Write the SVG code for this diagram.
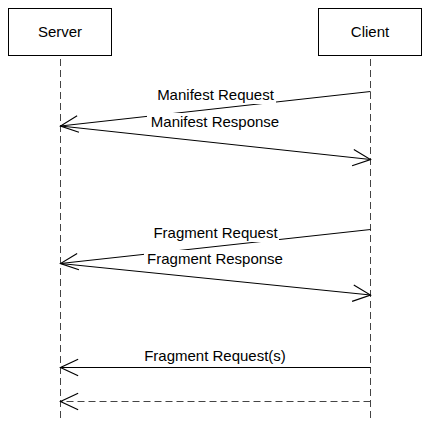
<svg xmlns="http://www.w3.org/2000/svg" width="433" height="432" viewBox="0 0 433 432">
  <style>
    .box { fill: #ffffff; stroke: #000000; stroke-width: 1; }
    .life { stroke: #444444; stroke-width: 1; stroke-dasharray: 7 4; fill: none; }
    .msg { stroke: #000000; stroke-width: 1; fill: none; marker-end: url(#open); }
    .ret { stroke: #444444; stroke-width: 1; stroke-dasharray: 7 4; fill: none; marker-end: url(#open); }
    .lbl { font-family: "Liberation Sans", Arial, sans-serif; font-size: 15px; fill: #000000; text-anchor: middle; }
    .lblbg { fill: #ffffff; stroke: none; }
  </style>
  <defs>
    <marker id="open" markerUnits="userSpaceOnUse" orient="auto" refX="0" refY="0" markerWidth="20" markerHeight="20" viewBox="-16 -8 17 16" overflow="visible">
      <path d="M-15,-7 L0,0 L-15,7" fill="none" stroke="#000000" stroke-width="1"/>
    </marker>
  </defs>
  <rect x="0" y="0" width="433" height="432" fill="#ffffff"/>

  <g id="server">
    <rect class="box" x="8.5" y="8.5" width="103" height="47"/>
    <text class="lbl" x="60" y="37">Server</text>
  </g>
  <g id="client">
    <rect class="box" x="318.5" y="8.5" width="103" height="47"/>
    <text class="lbl" x="370" y="37">Client</text>
  </g>

  <g id="lifelines">
    <line class="life" x1="60.5" y1="59" x2="60.5" y2="420"/>
    <line class="life" x1="370.5" y1="59" x2="370.5" y2="420"/>
  </g>

  <g id="connectors">
    <line class="msg" x1="370.5" y1="91.5" x2="60.5" y2="126"/>
    <line class="msg" x1="60.5" y1="126" x2="370.5" y2="159.5"/>
    <line class="msg" x1="370.5" y1="229.5" x2="60.5" y2="263.5"/>
    <line class="msg" x1="60.5" y1="263.5" x2="370.5" y2="295"/>
    <line class="msg" x1="370.5" y1="367.5" x2="60.5" y2="367.5"/>
    <line class="ret" x1="370.5" y1="401.5" x2="60.5" y2="401.5"/>
  </g>

  <g id="labels">
    <g id="lbl-manifest-request">
      <rect class="lblbg" x="155" y="87" width="121" height="17"/>
      <text class="lbl" x="215.5" y="100">Manifest Request</text>
    </g>
    <g id="lbl-manifest-response">
      <rect class="lblbg" x="147" y="113" width="135" height="17"/>
      <text class="lbl" x="215" y="127">Manifest Response</text>
    </g>
    <g id="lbl-fragment-request">
      <rect class="lblbg" x="151" y="225" width="128" height="17"/>
      <text class="lbl" x="215.5" y="238">Fragment Request</text>
    </g>
    <g id="lbl-fragment-response">
      <rect class="lblbg" x="144" y="250" width="142" height="17"/>
      <text class="lbl" x="215" y="264">Fragment Response</text>
    </g>
    <g id="lbl-fragment-requests">
      <text class="lbl" x="215" y="361">Fragment Request(s)</text>
    </g>
  </g>
</svg>
